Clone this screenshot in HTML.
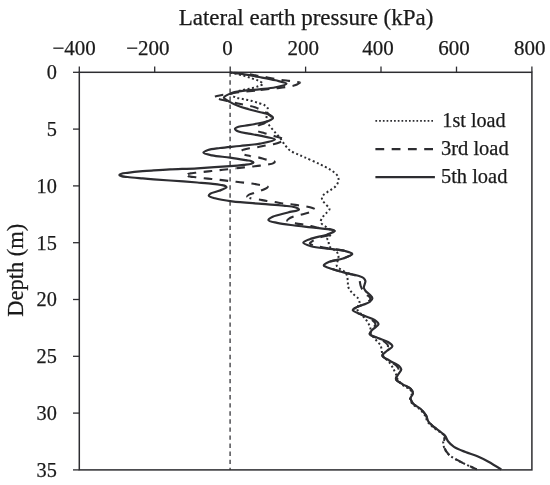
<!DOCTYPE html>
<html lang="en"><head><meta charset="utf-8"><title>Lateral earth pressure</title>
<style>html,body{margin:0;padding:0;background:#fff}body{width:550px;height:485px;overflow:hidden}</style></head>
<body>
<svg width="550" height="485" viewBox="0 0 550 485" style="display:block">
<rect width="550" height="485" fill="#fff"/>
<g font-family="'Liberation Serif', 'Times New Roman', serif" fill="#1a1a1a" stroke="#1a1a1a" stroke-width="0.25">
<text x="178.64" y="25.40" font-size="23">Lateral earth pressure (kPa)</text>
<text x="52.46" y="54.80" font-size="21">−400</text>
<text x="126.26" y="54.80" font-size="21">−200</text>
<text x="222.25" y="54.80" font-size="21">0</text>
<text x="287.40" y="54.80" font-size="21">200</text>
<text x="362.21" y="54.80" font-size="21">400</text>
<text x="438.15" y="54.80" font-size="21">600</text>
<text x="513.95" y="54.80" font-size="21">800</text>
<text x="442.32" y="127.40" font-size="20.2">1st load</text>
<text x="440.94" y="155.40" font-size="20.5">3rd load</text>
<text x="440.94" y="182.90" font-size="20.45">5th load</text>
<text transform="translate(22.50,316.77) rotate(-90)" font-size="22.5">Depth (m)</text>
<text x="46.68" y="79.10" font-size="20.3">0</text>
<text x="46.68" y="135.90" font-size="20.3">5</text>
<text x="36.53" y="192.70" font-size="20.3">10</text>
<text x="36.53" y="249.50" font-size="20.3">15</text>
<text x="36.53" y="306.30" font-size="20.3">20</text>
<text x="36.53" y="363.10" font-size="20.3">25</text>
<text x="36.53" y="419.90" font-size="20.3">30</text>
<text x="36.53" y="476.70" font-size="20.3">35</text>
</g>
<line x1="230.1" y1="72.3" x2="230.1" y2="469.9" stroke="#505054" stroke-width="1.5" stroke-dasharray="4.4 3.67"/>
<g fill="none" stroke="#2d2d31" stroke-linejoin="round">
<path d="M230.20,72.50 C230.20,72.50 238.81,74.32 242.70,75.40 C246.19,76.37 249.58,77.58 252.50,78.60 C254.90,79.43 257.15,80.01 259.00,81.00 C260.56,81.83 263.06,83.05 263.00,83.90 C262.94,84.71 260.53,85.37 259.00,86.00 C257.13,86.77 254.90,87.39 252.50,88.00 C249.58,88.74 245.80,89.21 242.70,90.00 C239.83,90.73 236.62,91.58 234.50,92.50 C233.05,93.13 231.01,93.76 231.00,94.50 C230.99,95.39 234.15,96.76 236.00,97.50 C238.01,98.30 240.34,98.50 242.70,99.00 C245.32,99.56 248.28,100.00 251.00,100.70 C253.71,101.40 256.56,102.38 259.00,103.20 C261.10,103.91 263.29,104.36 264.80,105.30 C266.00,106.05 267.13,106.89 267.60,108.00 C268.08,109.12 267.76,110.91 267.60,112.00 C267.48,112.79 267.15,113.14 267.00,114.00 C266.74,115.45 266.24,118.13 266.60,120.00 C266.95,121.79 267.92,123.32 269.00,125.00 C270.28,126.99 272.25,128.93 274.00,131.00 C275.90,133.25 278.14,135.62 280.00,138.00 C281.80,140.29 283.27,142.85 285.00,145.00 C286.61,147.00 287.97,148.97 290.00,150.50 C292.23,152.17 295.45,153.22 298.00,154.40 C300.29,155.46 301.95,156.12 304.60,157.30 C308.63,159.10 315.19,161.93 319.80,164.20 C323.77,166.15 327.64,167.99 330.70,170.00 C333.17,171.62 335.72,173.27 337.00,175.00 C337.91,176.23 338.37,177.47 338.50,178.80 C338.64,180.19 338.28,181.85 337.70,183.20 C337.10,184.59 336.03,185.90 334.90,187.00 C333.74,188.14 332.12,189.02 330.80,189.90 C329.60,190.70 328.47,191.31 327.30,192.10 C326.07,192.93 324.51,193.80 323.60,194.80 C322.85,195.63 322.21,196.58 322.00,197.50 C321.81,198.32 321.88,199.18 322.20,200.00 C322.59,201.01 323.58,201.83 324.50,203.00 C325.84,204.70 329.53,207.36 329.50,209.20 C329.48,210.72 327.14,211.99 326.00,213.30 C324.94,214.52 323.75,215.42 322.90,216.80 C321.94,218.36 320.27,220.62 320.70,222.30 C321.22,224.32 325.21,225.99 327.30,227.70 C329.19,229.24 332.53,230.40 332.70,232.10 C332.88,233.98 327.49,236.91 327.30,238.60 C327.19,239.55 328.18,240.01 328.50,241.00 C328.96,242.41 328.40,244.76 329.40,246.40 C330.71,248.54 335.42,250.07 336.90,252.00 C337.90,253.31 338.34,254.68 338.50,256.00 C338.65,257.21 338.21,258.22 338.00,259.60 C337.71,261.47 336.10,264.22 336.90,266.20 C337.91,268.72 343.80,270.09 345.60,272.70 C347.15,274.94 347.37,277.92 347.80,280.40 C348.18,282.64 347.49,284.82 348.20,286.90 C348.99,289.20 351.00,291.54 352.70,293.50 C354.34,295.39 357.08,296.73 358.20,298.50 C359.07,299.87 359.56,301.25 359.50,302.80 C359.43,304.69 356.80,307.07 357.10,309.00 C357.41,310.98 359.95,312.60 361.50,314.50 C363.20,316.58 365.42,318.75 366.90,321.00 C368.28,323.09 369.47,325.27 370.20,327.50 C370.90,329.64 370.40,332.07 371.30,334.10 C372.26,336.26 374.44,338.10 376.00,340.00 C377.50,341.83 379.58,343.52 380.50,345.30 C381.24,346.72 381.25,348.07 381.60,349.60 C381.99,351.32 381.75,353.19 382.70,355.10 C384.06,357.85 388.48,361.14 390.40,363.80 C391.82,365.77 392.65,367.57 393.60,369.30 C394.42,370.81 395.17,372.06 395.80,373.60 C396.48,375.27 396.54,377.24 397.50,379.00 C398.63,381.06 400.50,383.28 402.50,385.00 C404.62,386.82 408.41,387.79 410.00,389.50 C411.13,390.72 411.97,392.12 412.00,393.50 C412.03,394.95 410.06,396.41 410.00,398.00 C409.94,399.73 410.75,401.83 412.00,403.50 C413.57,405.60 417.30,406.95 419.50,409.00 C421.61,410.96 423.64,413.27 425.00,415.50 C426.19,417.45 426.28,419.65 427.50,421.50 C428.82,423.51 430.78,425.25 432.80,427.00 C435.05,428.94 438.38,430.82 440.50,432.50 C442.09,433.76 443.98,434.47 444.50,436.00 C445.08,437.71 443.18,440.38 443.20,442.50 C443.22,444.54 443.68,446.60 444.50,448.50 C445.37,450.51 446.73,452.49 448.40,454.20 C450.27,456.11 452.82,457.64 455.40,459.20 C458.27,460.93 461.55,462.38 464.90,464.00 C468.58,465.78 476.60,469.40 476.60,469.40" stroke-width="2" stroke-dasharray="2 2.5"/>
<path d="M230.20,72.50 C230.20,72.50 239.91,73.08 245.00,73.70 C250.48,74.37 256.26,75.52 262.00,76.50 C267.92,77.51 275.02,78.93 280.00,79.70 C283.51,80.25 286.19,80.53 289.00,80.90 C291.48,81.22 293.97,81.48 296.00,81.80 C297.58,82.05 300.12,82.14 300.20,82.60" stroke-width="2.1" stroke-dasharray="8.6 7.4" stroke-dashoffset="12.20"/>
<path d="M300.20,82.60 C300.27,82.99 298.48,83.72 297.50,84.20 C296.43,84.73 295.39,85.20 294.00,85.60 C292.09,86.15 289.63,86.50 287.00,86.90 C283.65,87.41 279.68,87.80 275.50,88.30 C270.50,88.89 264.46,89.61 259.00,90.20" stroke-width="2.1" stroke-dasharray="8.6 7.4" stroke-dashoffset="15.97"/>
<path d="M259.00,90.20 C253.63,90.78 248.24,91.15 243.00,91.80 C237.91,92.43 232.61,93.24 228.00,94.00 C224.04,94.65 219.63,95.32 217.00,96.00 C215.49,96.39 213.50,96.77 213.50,97.20 C213.50,97.69 216.32,98.30 218.00,98.80 C220.06,99.42 222.31,99.87 225.00,100.50 C228.66,101.35 234.33,102.57 238.00,103.40 C240.69,104.01 242.46,104.42 245.00,105.00 C248.04,105.70 252.07,106.30 255.00,107.30 C257.45,108.14 259.40,109.22 261.50,110.30 C263.56,111.36 265.70,112.43 267.50,113.70 C269.17,114.88 271.96,116.36 272.00,117.60" stroke-width="2.1" stroke-dasharray="8.6 7.4" stroke-dashoffset="12.01"/>
<path d="M272.00,117.60 C272.04,118.64 270.17,119.70 269.00,120.60 C267.71,121.59 266.17,122.39 264.50,123.20 C262.56,124.14 259.45,124.66 258.00,125.80 C256.98,126.60 256.03,127.69 256.00,128.60 C255.97,129.42 256.64,130.33 257.50,131.00 C258.89,132.08 262.10,132.47 264.50,133.20 C267.03,133.97 269.57,134.71 272.30,135.50 C275.31,136.37 279.56,137.26 281.80,138.20 C283.12,138.75 284.81,139.35 284.80,139.90 C284.78,140.48 282.80,141.03 281.40,141.60 C279.32,142.45 276.07,143.56 273.40,144.20 C270.83,144.81 268.30,144.91 265.70,145.40 C263.00,145.91 260.23,146.71 257.50,147.20 C254.83,147.68 252.11,147.76 249.50,148.30 C246.94,148.83 243.54,149.42 242.00,150.40 C241.11,150.97 240.24,151.80 240.30,152.40 C240.36,153.00 241.40,153.52 242.40,154.00 C244.18,154.86 247.90,155.53 250.60,156.10" stroke-width="2.1" stroke-dasharray="8.6 7.4" stroke-dashoffset="8.14"/>
<path d="M250.60,156.10 C253.20,156.65 255.71,156.83 258.30,157.40 C260.98,157.99 263.94,159.07 266.40,159.60 C268.43,160.04 270.49,159.99 272.00,160.50 C273.13,160.88 274.76,161.47 274.80,162.00 C274.84,162.45 273.81,163.02 273.00,163.40 C271.79,163.97 269.87,164.17 268.00,164.50 C265.63,164.92 262.61,165.27 259.90,165.60 C257.18,165.93 254.39,166.20 251.70,166.50 C249.09,166.80 246.60,167.10 244.00,167.40 C241.33,167.70 238.58,168.00 235.90,168.30" stroke-width="2.1" stroke-dasharray="8.6 7.4" stroke-dashoffset="8.19"/>
<path d="M235.90,168.30 C233.25,168.60 230.66,168.90 228.00,169.20 C225.29,169.50 222.53,169.80 219.80,170.10 C217.07,170.40 214.33,170.70 211.60,171.00 C208.87,171.30 206.12,171.60 203.40,171.90 C200.69,172.20 197.65,172.53 195.30,172.80 C193.49,173.00 191.80,173.09 190.50,173.35 C189.59,173.53 188.76,173.65 188.20,174.00 C187.78,174.26 187.30,174.67 187.30,175.00" stroke-width="2.1" stroke-dasharray="8.6 7.4" stroke-dashoffset="8.17"/>
<path d="M187.30,175.00 C187.30,175.33 187.78,175.74 188.20,176.00 C188.76,176.35 189.57,176.47 190.50,176.65 C191.89,176.92 193.84,177.03 195.80,177.25 C198.24,177.53 201.32,177.90 204.00,178.20 C206.58,178.49 209.02,178.72 211.60,179.00 C214.28,179.29 217.07,179.59 219.80,179.90 C222.53,180.21 225.27,180.53 228.00,180.85 C230.73,181.17 233.54,181.50 236.20,181.80 C238.73,182.08 241.09,182.32 243.60,182.60 C246.22,182.89 248.88,183.11 251.60,183.50 C254.47,183.91 257.86,184.58 260.40,185.00 C262.33,185.32 264.15,185.41 265.50,185.80 C266.44,186.07 267.70,186.38 267.80,186.80 C267.88,187.12 267.42,187.51 266.90,187.90 C265.68,188.83 261.99,190.18 259.60,191.10 C257.36,191.96 254.98,192.59 253.00,193.30 C251.35,193.89 249.49,194.28 248.50,195.00 C247.85,195.47 247.11,196.14 247.20,196.60 C247.30,197.12 248.43,197.52 249.50,197.90" stroke-width="2.1" stroke-dasharray="8.6 7.4" stroke-dashoffset="14.96"/>
<path d="M249.50,197.90 C251.53,198.62 255.90,198.96 258.90,199.50 C261.68,200.00 264.23,200.58 266.90,201.00 C269.56,201.42 272.24,201.58 274.90,202.00 C277.57,202.42 280.22,203.13 282.90,203.50 C285.56,203.86 288.30,203.89 290.90,204.20 C293.39,204.50 295.71,204.94 298.20,205.30 C300.80,205.68 303.71,205.91 306.20,206.40 C308.44,206.84 310.83,207.37 312.50,208.00 C313.68,208.45 315.35,208.96 315.40,209.50" stroke-width="2.1" stroke-dasharray="8.6 7.4" stroke-dashoffset="6.45"/>
<path d="M315.40,209.50 C315.44,209.97 314.31,210.55 313.50,211.00 C312.37,211.63 310.77,212.09 309.10,212.60 C306.99,213.24 304.29,213.77 301.80,214.40 C299.19,215.06 296.16,215.64 293.80,216.50 C291.81,217.22 289.62,218.13 288.50,219.00 C287.84,219.52 287.11,220.11 287.20,220.60 C287.31,221.21 288.82,221.75 290.00,222.20 C291.72,222.85 294.31,223.19 296.70,223.60 C299.43,224.07 302.43,224.21 305.50,224.80 C308.96,225.46 312.29,226.63 316.40,227.50 C321.66,228.61 333.85,228.84 334.50,230.70 C334.82,231.61 333.11,233.02 331.60,234.00 C328.93,235.72 322.05,236.54 318.50,238.00 C315.90,239.07 313.55,240.34 312.00,241.40 C311.02,242.06 309.75,242.69 309.80,243.30 C309.85,244.00 311.74,244.77 313.00,245.30 C314.54,245.94 316.32,246.15 318.50,246.60 C321.63,247.24 325.91,247.94 330.00,248.60 C334.66,249.35 341.01,249.62 345.00,250.80 C347.84,251.64 351.98,252.82 352.00,254.00 C352.02,255.35 346.38,257.26 343.00,258.50 C339.03,259.96 332.87,260.33 329.50,261.80 C327.22,262.80 324.11,264.19 324.20,265.30" stroke-width="2.1" stroke-dasharray="8.6 7.4" stroke-dashoffset="8.82"/>
<path d="M324.20,265.30 C324.30,266.61 329.40,267.92 332.30,269.00 C335.47,270.18 339.36,271.12 342.50,272.00 C345.19,272.75 347.64,273.33 350.00,274.00 C352.12,274.60 354.37,274.93 356.00,275.80 C357.35,276.52 358.66,277.40 359.30,278.50 C359.88,279.50 359.68,280.80 359.90,282.00 C360.14,283.29 360.27,284.69 360.70,286.00 C361.15,287.36 361.78,288.70 362.60,290.00 C363.51,291.44 364.77,292.95 366.00,294.20 C367.18,295.40 369.12,296.37 369.80,297.40 C370.23,298.05 370.55,298.67 370.40,299.30 C370.21,300.13 369.10,300.99 368.00,301.80 C366.35,303.02 363.27,304.19 361.00,305.30 C358.87,306.35 356.19,307.28 354.80,308.30 C353.94,308.93 352.89,309.50 353.00,310.20 C353.23,311.62 359.35,313.72 362.50,315.30 C365.52,316.81 369.23,317.77 371.50,319.50 C373.29,320.86 375.42,322.57 375.50,324.20 C375.58,325.83 372.98,327.59 372.00,329.30 C371.11,330.86 369.38,332.67 369.80,334.00 C370.32,335.62 374.15,336.55 376.50,337.80 C379.03,339.15 382.49,340.21 384.50,341.80 C386.07,343.04 387.85,344.51 388.00,346.00 C388.15,347.47 386.41,349.13 385.50,350.70 C384.55,352.33 382.15,354.07 382.40,355.60 C382.70,357.38 386.29,358.88 388.50,360.50 C390.95,362.29 394.77,363.99 396.50,365.80 C397.66,367.01 398.56,368.14 398.70,369.50 C398.86,371.01 397.45,372.84 397.00,374.50 C396.56,376.10 395.44,377.84 396.00,379.30 C396.73,381.21 400.39,382.72 402.80,384.30 C405.34,385.96 409.21,387.15 410.90,389.00 C412.13,390.35 413.03,392.02 413.00,393.50 C412.97,394.98 410.78,396.33 410.70,397.90 C410.61,399.61 411.60,401.74 412.90,403.40 C414.54,405.48 418.28,406.75 420.50,408.80 C422.63,410.77 424.66,413.13 426.00,415.40 C427.17,417.38 427.19,419.66 428.40,421.50 C429.68,423.45 431.63,424.99 433.60,426.70 C435.86,428.66 439.19,430.73 441.30,432.50 C442.89,433.83 444.88,434.64 445.30,436.20 C445.77,437.91 443.48,440.41 443.40,442.50 C443.32,444.51 443.88,446.60 444.70,448.50 C445.57,450.51 446.93,452.49 448.60,454.20 C450.47,456.11 453.02,457.64 455.60,459.20 C458.47,460.93 461.75,462.38 465.10,464.00 C468.78,465.78 476.80,469.40 476.80,469.40" stroke-width="2.1" stroke-dasharray="8.6 7.4" stroke-dashoffset="7.27"/>
<path d="M230.20,72.50 C230.20,72.50 238.26,73.52 242.70,74.20 C247.80,74.98 253.64,75.98 259.10,77.00 C264.57,78.02 270.61,79.05 275.50,80.30 C279.56,81.33 286.49,82.53 286.50,83.70 C286.51,84.87 279.58,86.39 275.50,87.30 C270.62,88.38 264.57,88.70 259.10,89.30 C253.64,89.90 247.74,90.14 242.70,90.90 C238.31,91.56 233.85,92.07 230.50,93.40 C227.85,94.45 223.97,96.06 223.90,97.50 C223.83,98.90 227.49,100.55 229.70,101.90 C232.26,103.46 235.42,104.90 238.50,106.10 C241.71,107.35 245.10,108.21 248.60,109.20 C252.34,110.25 256.69,111.24 260.30,112.20 C263.42,113.03 266.75,113.43 269.00,114.60 C270.71,115.49 273.03,116.86 273.00,117.90 C272.97,118.92 270.68,120.01 269.00,120.80 C266.73,121.86 263.43,122.31 260.30,123.00 C256.70,123.79 252.36,124.55 248.60,125.20 C245.11,125.80 240.94,125.91 238.50,126.80 C236.96,127.36 235.04,128.13 235.00,128.90 C234.96,129.69 236.93,130.79 238.50,131.50 C240.91,132.60 245.12,133.03 248.60,133.70 C252.28,134.41 255.96,134.73 260.00,135.60 C264.68,136.61 275.00,138.27 275.00,139.60 C275.00,140.93 265.40,142.56 260.00,143.60 C253.85,144.78 246.67,145.27 240.00,146.00 C233.34,146.73 225.81,147.23 220.00,148.00 C215.48,148.60 210.99,148.92 208.00,150.00 C206.02,150.72 203.31,151.89 203.40,152.70 C203.52,153.75 208.57,154.66 212.00,155.40 C216.87,156.45 224.18,156.77 230.00,157.60 C235.50,158.38 242.06,159.52 246.00,160.20 C248.31,160.60 250.16,160.67 251.50,161.20 C252.38,161.55 253.51,162.07 253.50,162.50 C253.49,162.94 252.30,163.45 251.30,163.80 C249.55,164.41 246.53,164.55 243.60,164.90 C239.71,165.36 235.52,165.76 230.00,166.20 C221.46,166.88 207.71,167.76 197.30,168.30 C187.79,168.80 177.95,169.00 170.00,169.40 C163.84,169.71 158.51,170.07 153.60,170.40 C149.60,170.67 146.63,170.85 142.70,171.20 C138.05,171.62 131.41,172.30 127.50,172.80 C125.04,173.11 122.98,173.20 121.50,173.70 C120.55,174.02 119.30,174.50 119.30,174.90 C119.30,175.30 120.55,175.78 121.50,176.10 C122.98,176.60 125.04,176.70 127.50,177.00 C131.40,177.47 138.05,177.99 142.70,178.40 C146.63,178.74 149.60,178.99 153.60,179.30 C158.51,179.68 163.84,180.05 170.00,180.50 C177.95,181.08 189.50,181.88 197.30,182.50 C203.16,182.96 208.36,183.30 212.70,183.80 C215.90,184.17 218.65,184.53 221.00,185.00 C222.77,185.36 224.70,185.63 225.60,186.20 C226.09,186.51 226.59,186.90 226.50,187.30 C226.28,188.27 221.62,189.77 219.00,190.80 C216.26,191.88 212.04,192.41 210.40,193.60 C209.50,194.25 208.61,195.15 208.80,195.80 C209.09,196.83 212.37,197.55 215.00,198.30 C219.22,199.51 225.52,200.45 232.00,201.30 C240.53,202.42 252.64,203.12 261.80,203.90 C269.63,204.57 277.51,205.02 283.60,205.70 C288.02,206.19 292.23,206.38 295.00,207.30 C296.74,207.88 299.08,208.81 299.00,209.50 C298.87,210.60 291.97,211.40 288.00,212.50 C283.32,213.80 276.13,215.08 272.70,216.80 C270.70,217.80 268.24,219.17 268.40,220.10 C268.61,221.31 273.66,222.10 277.10,222.90 C281.87,224.02 288.36,224.70 294.50,225.50 C301.37,226.39 309.42,226.93 316.40,227.90 C322.84,228.79 334.70,229.54 334.90,231.00 C335.03,231.98 330.41,233.37 327.30,234.50 C322.72,236.16 314.14,237.45 309.80,239.20 C307.02,240.32 303.25,241.67 303.30,242.80 C303.35,244.01 307.78,245.28 311.00,246.20 C315.85,247.59 324.04,248.06 330.00,248.90 C335.29,249.65 340.95,249.88 345.00,251.00 C347.93,251.81 352.28,252.95 352.30,254.10 C352.33,255.41 346.47,257.28 343.00,258.50 C338.94,259.93 332.75,260.33 329.30,261.80 C326.95,262.80 323.72,264.19 323.80,265.30 C323.89,266.61 329.04,267.91 332.00,269.00 C335.29,270.21 339.25,271.19 342.70,272.10 C345.90,272.94 349.11,273.61 352.00,274.30 C354.53,274.90 357.04,275.29 359.10,276.00 C360.77,276.57 362.43,277.06 363.50,278.00 C364.42,278.80 365.21,279.92 365.40,281.00 C365.59,282.09 364.88,283.38 364.60,284.50 C364.34,285.54 363.69,286.48 363.80,287.50 C363.92,288.65 364.76,289.91 365.60,291.00 C366.57,292.26 368.34,293.26 369.50,294.50 C370.60,295.67 372.37,296.95 372.40,298.20 C372.43,299.45 371.02,300.95 369.70,302.00 C367.98,303.37 364.84,304.00 362.40,305.00 C359.94,306.00 356.70,306.90 355.00,308.00 C353.93,308.69 352.58,309.41 352.70,310.20 C352.94,311.74 359.94,313.87 363.60,315.50 C367.21,317.10 371.89,318.09 374.50,319.90 C376.35,321.19 378.58,322.80 378.50,324.30 C378.40,326.06 373.93,327.88 372.40,329.70 C371.18,331.15 369.32,332.84 369.70,334.10 C370.20,335.77 375.08,336.73 378.00,338.00 C381.16,339.37 385.46,340.35 388.00,342.00 C389.92,343.25 392.46,344.89 392.40,346.30 C392.34,347.79 388.78,349.14 387.10,350.70 C385.41,352.27 382.14,354.14 382.30,355.70 C382.48,357.43 386.73,358.90 389.30,360.50 C392.26,362.34 397.11,364.16 399.10,366.00 C400.28,367.10 401.28,368.06 401.30,369.30 C401.33,370.87 398.91,372.94 398.00,374.70 C397.19,376.27 395.62,377.87 396.00,379.30 C396.50,381.15 400.39,382.72 402.80,384.30 C405.34,385.96 409.21,387.15 410.90,389.00 C412.13,390.35 413.03,392.02 413.00,393.50 C412.97,394.98 410.78,396.33 410.70,397.90 C410.61,399.61 411.60,401.74 412.90,403.40 C414.54,405.48 418.28,406.75 420.50,408.80 C422.63,410.77 424.66,413.13 426.00,415.40 C427.17,417.38 427.19,419.66 428.40,421.50 C429.68,423.45 431.63,424.99 433.60,426.70 C435.86,428.66 439.19,430.73 441.30,432.50 C442.89,433.83 444.17,434.75 445.30,436.20 C446.49,437.73 446.89,439.83 448.20,441.50 C449.69,443.40 451.59,445.21 454.00,446.80 C457.06,448.82 461.60,450.42 465.50,452.00 C469.40,453.58 473.59,454.68 477.40,456.30 C481.08,457.86 484.31,459.49 488.00,461.50 C492.23,463.80 501.30,469.50 501.30,469.50" stroke-width="2.2"/>
<line x1="375.4" y1="120.9" x2="433" y2="120.9" stroke-width="1.8" stroke-dasharray="1.7 2.03"/>
<line x1="375.4" y1="149.1" x2="433" y2="149.1" stroke-width="2.1" stroke-dasharray="8.8 7.47"/>
<line x1="375.4" y1="177.1" x2="434.9" y2="177.1" stroke-width="2.2"/>
</g>
<g fill="none" stroke="#2d2d31" stroke-width="1.5">
<rect x="79.3" y="72.3" width="452.6" height="397.6"/>
<line x1="79.3" y1="66.6" x2="79.3" y2="72.3" stroke-width="1.3"/>
<line x1="154.7" y1="66.6" x2="154.7" y2="72.3" stroke-width="1.3"/>
<line x1="230.2" y1="66.6" x2="230.2" y2="72.3" stroke-width="1.3"/>
<line x1="305.6" y1="66.6" x2="305.6" y2="72.3" stroke-width="1.3"/>
<line x1="381.0" y1="66.6" x2="381.0" y2="72.3" stroke-width="1.3"/>
<line x1="456.5" y1="66.6" x2="456.5" y2="72.3" stroke-width="1.3"/>
<line x1="531.9" y1="66.6" x2="531.9" y2="72.3" stroke-width="1.3"/>
<line x1="73.0" y1="72.3" x2="79.3" y2="72.3" stroke-width="1.3"/>
<line x1="73.0" y1="129.1" x2="79.3" y2="129.1" stroke-width="1.3"/>
<line x1="73.0" y1="185.9" x2="79.3" y2="185.9" stroke-width="1.3"/>
<line x1="73.0" y1="242.7" x2="79.3" y2="242.7" stroke-width="1.3"/>
<line x1="73.0" y1="299.5" x2="79.3" y2="299.5" stroke-width="1.3"/>
<line x1="73.0" y1="356.3" x2="79.3" y2="356.3" stroke-width="1.3"/>
<line x1="73.0" y1="413.1" x2="79.3" y2="413.1" stroke-width="1.3"/>
<line x1="73.0" y1="469.9" x2="79.3" y2="469.9" stroke-width="1.3"/>
</g>
</svg>
</body></html>
